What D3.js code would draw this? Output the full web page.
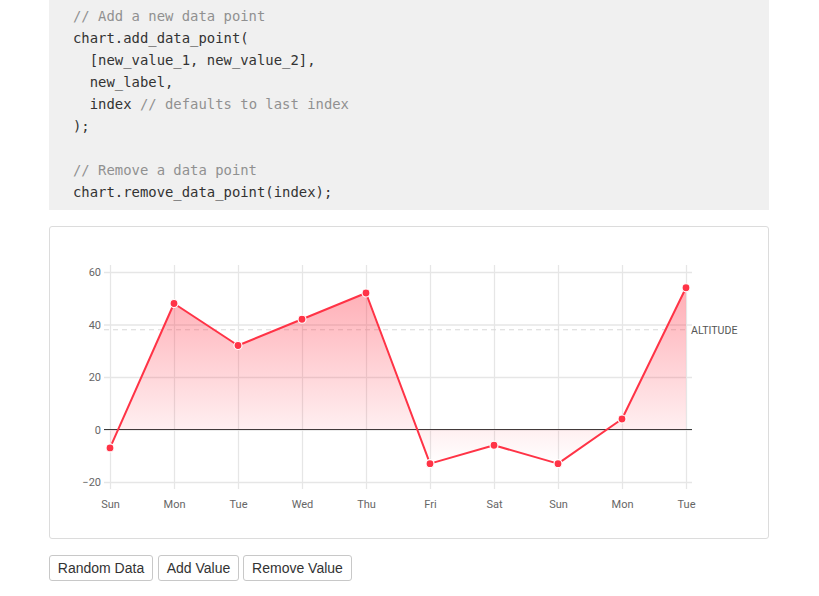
<!DOCTYPE html>
<html>
<head>
<meta charset="utf-8">
<script src="https://cdn.jsdelivr.net/npm/d3@7"></script>
<style>
  html, body { margin: 0; padding: 0; background: #fff; width: 819px; height: 596px; overflow: hidden; }
  .code {
    position: absolute; left: 49px; top: 0; width: 720px; height: 210px;
    background: #f0f0f0; margin: 0; box-sizing: border-box;
    padding: 5px 0 0 24px;
    font-family: "DejaVu Sans Mono", monospace; font-size: 13.9px; line-height: 22px;
    color: #333;
  }
  .code div { white-space: pre; height: 22px; }
  .code .c { color: #909090; }
  .box {
    position: absolute; left: 49px; top: 226px; width: 720px; height: 313px;
    box-sizing: border-box; border: 1px solid #dcdcdc; border-radius: 3px;
  }
  svg { position: absolute; left: 0; top: 0; }
  .btn {
    position: absolute; top: 555px; height: 26px; box-sizing: border-box;
    border: 1px solid #c8c8c8; border-radius: 3px; background: #fff;
    font-family: "Liberation Sans", Arial, sans-serif; font-size: 14px; color: #333;
    display: flex; align-items: center; justify-content: center;
  }
  .axis text { font-family: Roboto, sans-serif; font-size: 11px; fill: #666; }
</style>
</head>
<body>
<div class="code">
<div class="c">// Add a new data point</div>
<div>chart.add_data_point(</div>
<div>  [new_value_1, new_value_2],</div>
<div>  new_label,</div>
<div>  index<span class="c"> // defaults to last index</span></div>
<div>);</div>
<div></div>
<div class="c">// Remove a data point</div>
<div>chart.remove_data_point(index);</div>
</div>
<div class="box"></div>
<div class="btn" style="left:49px;width:104px;">Random Data</div>
<div class="btn" style="left:158px;width:81px;">Add Value</div>
<div class="btn" style="left:243px;width:109px;">Remove Value</div>
<svg id="chart" width="819" height="596"></svg>
<script>
const labels = ["Sun", "Mon", "Tue", "Wed", "Thu", "Fri", "Sat", "Sun", "Mon", "Tue"];
const values = [-7, 48, 32, 42, 52, -13, -6, -13, 4, 54];
const yTicks = [-20, 0, 20, 40, 60];
const markerValue = 38;
const markerLabel = "ALTITUDE";
const color = "#ff3346";

const svg = d3.select("#chart");
const x = d3.scalePoint().domain(d3.range(labels.length)).range([110, 686]);
const y = d3.scaleLinear().domain([-20, 60]).range([482, 272]);

const gridLeft = 104, gridRight = 692, gridTop = 265, gridBottom = 489;

// y axis with horizontal gridlines
const yAxis = svg.append("g").attr("class", "axis")
  .attr("transform", `translate(${gridLeft},0)`)
  .call(d3.axisLeft(y).tickValues(yTicks).tickSize(-(gridRight - gridLeft)).tickPadding(3));
yAxis.select(".domain").remove();
yAxis.selectAll("line").attr("stroke", "#e6e6e6").attr("stroke-width", 1.3);

// x axis with vertical gridlines
const xAxis = svg.append("g").attr("class", "axis")
  .attr("transform", `translate(0,${gridBottom})`)
  .call(d3.axisBottom(x).tickFormat(i => labels[i]).tickSize(-(gridBottom - gridTop)).tickPadding(11));
xAxis.select(".domain").remove();
xAxis.selectAll("line").attr("stroke", "#e6e6e6").attr("stroke-width", 1.3);

// zero line
svg.append("line")
  .attr("x1", gridLeft).attr("x2", gridRight)
  .attr("y1", y(0)).attr("y2", y(0))
  .attr("stroke", "#3a3a3a").attr("stroke-width", 1);

// marker line
svg.append("line")
  .attr("x1", gridLeft).attr("x2", x(labels.length - 1))
  .attr("y1", y(markerValue)).attr("y2", y(markerValue))
  .attr("stroke", "#d8d8d8").attr("stroke-width", 1)
  .attr("stroke-dasharray", "5,4");
svg.append("text")
  .attr("x", x(labels.length - 1) + 5).attr("y", y(markerValue) + 1)
  .attr("dy", "0.35em")
  .style("font-family", "Roboto, sans-serif").style("font-size", "10.6px")
  .attr("fill", "#555").text(markerLabel);

// gradient
const defs = svg.append("defs");
const grad = defs.append("linearGradient").attr("id", "areaGrad")
  .attr("x1", 0).attr("y1", 0).attr("x2", 0).attr("y2", 1);
grad.append("stop").attr("offset", "0%").attr("stop-color", color).attr("stop-opacity", 0.4);
grad.append("stop").attr("offset", "50%").attr("stop-color", color).attr("stop-opacity", 0.2);
grad.append("stop").attr("offset", "100%").attr("stop-color", color).attr("stop-opacity", 0);

const area = d3.area().x((d, i) => x(i)).y0(y(0)).y1(d => y(d));
svg.append("path").datum(values).attr("d", area).attr("fill", "url(#areaGrad)");

const line = d3.line().x((d, i) => x(i)).y(d => y(d));
svg.append("path").datum(values).attr("d", line)
  .attr("fill", "none").attr("stroke", color).attr("stroke-width", 2)
  .attr("stroke-linejoin", "round");

svg.append("g").selectAll("circle").data(values).join("circle")
  .attr("cx", (d, i) => x(i)).attr("cy", d => y(d)).attr("r", 4)
  .attr("fill", color).attr("stroke", "#fff").attr("stroke-width", 1.2);
</script>
</body>
</html>
